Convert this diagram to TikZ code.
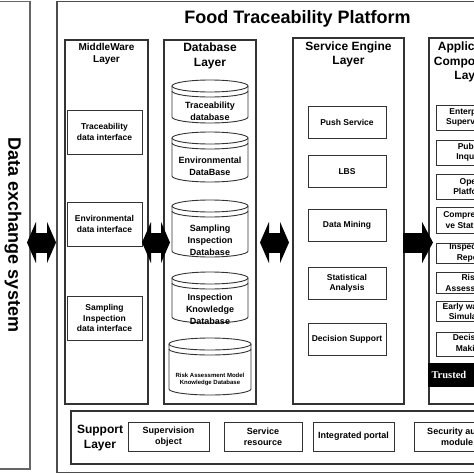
\documentclass[tikz,border=0pt]{standalone}
\usepackage{fontspec}
\setmainfont{Liberation Sans}
\newfontfamily\serifbox{Liberation Serif}
\usetikzlibrary{arrows.meta}

\begin{document}
\begin{tikzpicture}[x=1pt, y=-1pt,
    frame/.style={draw=black!80, line width=1.2pt},
    item/.style={draw=black!80, line width=1pt, align=center, inner sep=0pt, font=\bfseries\fontsize{8.5}{10.5}\selectfont},
    mwitem/.style={item, minimum width=75pt, minimum height=44pt},
    seitem/.style={item, minimum width=78pt, minimum height=32pt},
    appitem/.style={item, minimum width=69pt},
    supitem/.style={item, minimum height=29pt, font=\bfseries\fontsize{9}{11}\selectfont},
    layertitle/.style={align=center, font=\bfseries\fontsize{12}{14.5}\selectfont},
    cyl/.style={draw=black!80, line width=0.9pt},
    dbtext/.style={align=center, font=\bfseries\fontsize{9}{12}\selectfont},
    risktext/.style={align=center, font=\bfseries\fontsize{6}{7.5}\selectfont},
    bigarrow/.style={line width=20pt, {Triangle[width=41pt,length=9pt]}-{Triangle[width=41pt,length=9pt]}},
    onearrow/.style={line width=20pt, -{Triangle[width=41pt,length=11pt]}}
]
    \useasboundingbox (0,0) rectangle (474,474);
    \clip (0,0) rectangle (474,474);
    \draw[draw=black!60, line width=1.6pt] (-20,1.5) rectangle (30,469);
    \draw[draw=black!70, line width=1.8pt] (57,1.5) rectangle (530,472.5);
    \node[rotate=-90, font=\bfseries\fontsize{18}{21}\selectfont] (dxlabel) at (13,235) {Data exchange system};
    \node[font=\bfseries\fontsize{18}{21}\selectfont] (platformtitle) at (297.5,19) {Food Traceability Platform};

    \draw[frame] (65,40) rectangle (148,404);
    \draw[frame] (164,40) rectangle (256,404);
    \draw[frame] (293,38) rectangle (404,404);
    \draw[frame] (429,38) rectangle (512,404);
    \draw[frame] (71,411) rectangle (530,464);

    \node[layertitle, font=\bfseries\fontsize{10}{12.5}\selectfont] (mwtitle) at (106.5,54) {MiddleWare\\Layer};
    \node[layertitle] (dbtitle) at (210,56) {Database\\Layer};
    \node[layertitle] (setitle) at (348.5,54.5) {Service Engine\\Layer};
    \node[layertitle] (apptitle) at (470.5,62) {Application\\Components\\Layer};
    \node[layertitle] (suptitle) at (100,438) {Support\\Layer};

    \node[mwitem] (mwtrace) at (104.5,132) {Traceability\\data interface};
    \node[mwitem] (mwenv) at (104.5,224) {Environmental\\data interface};
    \node[mwitem] (mwsamp) at (104.5,318) {Sampling\\Inspection\\data interface};

    \foreach \t/\b/\r/\ty/\sty/\txt [count=\i] in {80/123/38/111.5/dbtext/{Traceability\\database},
        132/182/38/166.5/dbtext/{Environmental\\DataBase},
        200/257/38/240/dbtext/{Sampling\\Inspection\\Database},
        272/323/38/309.5/dbtext/{Inspection\\Knowledge\\Database},
        338/395/41/379.5/risktext/{Risk Assessment Model\\Knowledge Database}} {
        \draw[cyl, fill=white] (210-\r,\t+6) -- (210-\r,\b-6) arc[start angle=180, end angle=360, x radius=\r pt, y radius=6pt] -- (210+\r,\t+6);
        \draw[cyl] (210,\t+6) ellipse [x radius=\r pt, y radius=6pt];
        \draw[cyl] (210-\r,\t+11) arc[start angle=180, end angle=360, x radius=\r pt, y radius=6pt];
        \node[\sty] (cyl\i) at (210,\ty) {\txt};
    }

    \foreach \nm/\y/\txt in {push/122.5/Push Service, lbs/171.5/LBS, mining/225/Data Mining,
        stat/283.5/{Statistical\\Analysis}, decsup/339.5/Decision Support}
        \node[seitem] (\nm) at (347,\y) {\txt};

    \foreach \nm/\y/\h/\txt in {ent/117.5/25/{Enterprise\\Supervision}, pub/152.5/25/{Public\\Inquiry},
        open/186.5/25/{Open\\Platform}, comp/220/26/{Comprehensi\\ve Statistics},
        insprep/253/20/{Inspection\\Report}, riskass/283/21/{Risk\\Assessment},
        warn/311.7/20/{Early warning\\Simulation}, decmak/344/24/{Decision\\Making}}
        \node[appitem, minimum height=\h pt] (\nm) at (470.5,\y) {\txt};
    \node[fill=black, text=white, minimum width=84pt, minimum height=24pt, text width=77pt, inner xsep=3.5pt, align=left,
        font=\serifbox\bfseries\fontsize{10.5}{12}\selectfont] (trusted) at (470,375) {Trusted};

    \node[supitem, minimum width=81pt] (supobj) at (168.5,436.5) {Supervision\\object};
    \node[supitem, minimum width=78pt] (serres) at (263,436.5) {Service\\resource};
    \node[supitem, minimum width=81pt] (portal) at (353.5,436.5) {Integrated portal};
    \node[supitem, minimum width=86pt] (secaudit) at (457,436.5) {Security audit\\module};

    \coordinate (dxr) at (27,242.5);
    \coordinate (pfl) at (56,242.5);
    \coordinate (mwr) at (142,242.5);
    \coordinate (dbl) at (170,242.5);
    \coordinate (dbr) at (260,242.5);
    \coordinate (sel) at (289,242.5);
    \coordinate (ser) at (403,242.5);
    \coordinate (appl) at (433,242.5);
    \draw[bigarrow] (dxr) -- (pfl);
    \draw[bigarrow] (mwr) -- (dbl);
    \draw[bigarrow] (dbr) -- (sel);
    \draw[onearrow] (ser) -- (appl);
\end{tikzpicture}
\end{document}
